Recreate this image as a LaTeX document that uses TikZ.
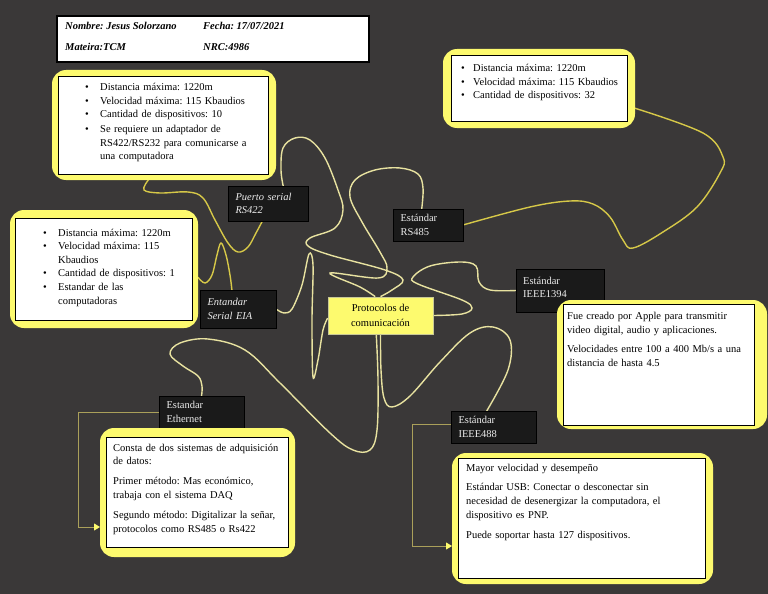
\documentclass[tikz,border=0pt]{standalone}
\usepackage{fontspec}
\setmainfont{Liberation Serif}
\usetikzlibrary{calc,arrows.meta}
\frenchspacing
\definecolor{bg}{RGB}{58,56,56}
\definecolor{boxyel}{RGB}{253,250,110}
\definecolor{lblk}{RGB}{26,26,26}
\definecolor{lbtxt}{RGB}{236,236,236}
\definecolor{gold}{RGB}{214,200,72}
\definecolor{cream}{RGB}{232,226,160}
\definecolor{elb}{RGB}{170,160,90}
\definecolor{protoedge}{RGB}{200,200,150}
\pgfdeclarelayer{back}
\pgfdeclarelayer{mid}
\pgfsetlayers{back,mid,main}
\newcommand\bl{\noindent\llap{\makebox[15pt][l]{\textbullet}}}
\newcommand\blb{\noindent\llap{\makebox[12pt][l]{\textbullet}}}
\begin{document}
\begin{tikzpicture}[x=1pt,y=-1pt,
  ybox/.style={fill=boxyel, rounded corners=14pt, inner sep=0pt, outer sep=0pt},
  wbox/.style={fill=white, draw=black, line width=1pt, inner sep=0pt, outer sep=0pt},
  lbl/.style={fill=lblk, draw=black, line width=0.6pt, text=lbtxt, font=\fontsize{10.5}{13.5}\selectfont\frenchspacing, align=left, inner xsep=7.5pt, inner ysep=0pt, outer sep=0pt},
  ilbl/.style={lbl, font=\fontsize{10.5}{13.5}\selectfont\itshape},
  lbltxt/.style={anchor=base west, inner sep=0pt, align=left, text width=80pt, text=lbtxt, font=\fontsize{10.5}{13.3}\selectfont},
  txt/.style={anchor=base west, inner sep=0pt, align=left, text width=260pt, font=\fontsize{10.5}{13.8}\selectfont\frenchspacing, text=black},
  hdrtxt/.style={anchor=base west, inner sep=0pt, font=\fontsize{10.5}{12}\selectfont\bfseries\itshape\frenchspacing, text=black},
  gcurve/.style={draw=gold, line width=1.4pt},
  ccurve/.style={draw=cream, line width=1.4pt},
  elbow/.style={draw=elb, line width=0.9pt, -{Triangle[length=6pt,width=7pt,color=boxyel]}},
]
\useasboundingbox (0,0) rectangle (768,594);
\begin{pgfonlayer}{back}
\fill[bg] (0,0) rectangle (768,594);
\end{pgfonlayer}

% header
\node[draw=black, fill=white, line width=1.2pt, minimum width=312pt, minimum height=46pt, inner sep=0pt] (hdr) at (213,39) {};
\node[hdrtxt] (h1) at (65,30) {Nombre: Jesus Solorzano};
\node[hdrtxt] (h2) at (203,30) {Fecha: 17/07/2021};
\node[hdrtxt] (h3) at (65,51) {Mateira:TCM};
\node[hdrtxt] (h4) at (203,51) {NRC:4986};

% top-left box
\node[ybox, minimum width=224pt, minimum height=110pt] (tlY) at (164,125) {};
\node[wbox, minimum width=210pt, minimum height=98pt] (tlW) at (163,125) {};
\node[txt, font=\fontsize{10.5}{14}\selectfont\frenchspacing] (tlT) at (85,90) {\leftskip=15pt
\bl Distancia máxima: 1220m\\
\bl Velocidad máxima: 115 Kbaudios\\
\bl Cantidad de dispositivos: 10\\
\bl Se requiere un adaptador de\\
RS422/RS232 para comunicarse a\\
una computadora\par};

% top-right box
\node[ybox, minimum width=192pt, minimum height=79pt] (trY) at (539,88.5) {};
\node[wbox, minimum width=176pt, minimum height=65pt] (trW) at (539,88.5) {};
\node[txt, font=\fontsize{10.5}{14}\selectfont\frenchspacing] (trT) at (461,71) {\leftskip=12pt
\blb Distancia máxima: 1220m\\
\blb Velocidad máxima: 115 Kbaudios\\
\blb Cantidad de dispositivos: 32\par};

% left middle box
\node[ybox, minimum width=188pt, minimum height=118pt] (lmY) at (104,269) {};
\node[wbox, minimum width=177pt, minimum height=102pt] (lmW) at (103.5,269) {};
\node[txt, font=\fontsize{10.5}{13.6}\selectfont\frenchspacing] (lmT) at (43,236) {\leftskip=15pt
\bl Distancia máxima: 1220m\\
\bl Velocidad máxima: 115\\
Kbaudios\\
\bl Cantidad de dispositivos: 1\\
\bl Estandar de las\\
computadoras\par};

% labels
\node[ilbl, text width=65pt, minimum height=35pt] (ps) at (268,203.5) {Puerto serial\\RS422};
\node[ilbl, text width=61pt, minimum height=38pt] (eia) at (238,309) {Entandar\\Serial EIA};
\node[lbl, text width=55pt, minimum height=32pt] (rs) at (428,225) {Estándar\\RS485};
\node[lbl, minimum width=88pt, minimum height=43pt] (ie4) at (560,290.5) {};
\node[lbltxt] (ie4t) at (523,284) {Estándar\\IEEE1394};
\node[lbl, text width=70pt, minimum height=32pt] (eth) at (201.5,412) {Estandar\\Ethernet};
\node[lbl, text width=70pt, minimum height=32pt] (ie8) at (493.5,427) {Estándar\\IEEE488};

% central node
\node[fill=boxyel, draw=protoedge, line width=0.8pt, minimum width=105pt, minimum height=37pt, inner sep=0pt, align=center, font=\fontsize{10.5}{14.5}\selectfont] (proto) at (380.5,315.5) {Protocolos de\\comunicación};

% IEEE1394 description
\node[ybox, minimum width=210pt, minimum height=129pt] (d4Y) at (662,364.5) {};
\node[wbox, minimum width=191pt, minimum height=121pt] (d4W) at (658.5,364.5) {};
\node[txt, font=\fontsize{10.5}{14}\selectfont\frenchspacing] (d4T) at (567,319) {Fue creado por Apple para transmitir\\
video digital, audio y aplicaciones.\\[5pt]
Velocidades entre 100 a 400 Mb/s a una\\
distancia de hasta 4.5};

% Ethernet description
\node[ybox, minimum width=195pt, minimum height=129pt] (deY) at (197.5,492.5) {};
\node[wbox, minimum width=182pt, minimum height=110pt] (deW) at (197,492) {};
\node[txt] (deT) at (113,451) {Consta de dos sistemas de adquisición\\
de datos:\\[6pt]
Primer método: Mas económico,\\
trabaja con el sistema DAQ\\[6pt]
Segundo método: Digitalizar la señar,\\
protocolos como RS485 o Rs422};

% IEEE488 description
\node[ybox, minimum width=261pt, minimum height=131pt] (d8Y) at (582.5,518.5) {};
\node[wbox, minimum width=247pt, minimum height=120pt] (d8W) at (581.5,518) {};
\node[txt] (d8T) at (466,471) {Mayor velocidad y desempeño\\[6pt]
Estándar USB: Conectar o desconectar sin\\
necesidad de desenergizar la computadora, el\\
dispositivo es PNP.\\[6pt]
Puede soportar hasta 127 dispositivos.};

% connector end points
\coordinate (a0) at ($(tlY.south west)!0.43!(tlY.south east)$);
\coordinate (a1) at ($(ps.south west)!0.43!(ps.south east)$);
\coordinate (b0) at ($(lmY.north east)!0.57!(lmY.south east)$);
\coordinate (b1) at ($(eia.north west)!0.42!(eia.north east)$);
\coordinate (c0) at (eia.east);
\coordinate (c1) at ($(proto.north west)!0.57!(proto.south west)$);
\coordinate (d0) at ($(ps.north west)!0.69!(ps.north east)$);
\coordinate (d1) at (proto.north);
\coordinate (e0) at ($(rs.north west)!0.41!(rs.north east)$);
\coordinate (e1) at ($(proto.north west)!0.45!(proto.north east)$);
\coordinate (g0) at ($(proto.north east)!0.5!(proto.south east)$);
\coordinate (g1) at (ie4.west);
\coordinate (h0) at (rs.east);
\coordinate (h1) at ($(trY.north east)!0.75!(trY.south east)$);
\coordinate (i0) at (proto.south);
\coordinate (i1) at ($(ie8.north west)!0.42!(ie8.north east)$);
\coordinate (j0) at ($(proto.south west)!0.46!(proto.south east)$);
\coordinate (j1) at (eth.north);
\coordinate (ethC) at (78,412);
\coordinate (ethIn) at (100,527);
\coordinate (ie8C) at (412,424);
\coordinate (ie8In) at (452,546);

\begin{pgfonlayer}{mid}
\draw[gcurve] plot[smooth, tension=0.6] coordinates {(a0) (144,190) (160,193) (188,192) (203,198) (215,220) (228,243) (238,252) (248,247) (256,233) (a1)};
\draw[gcurve] plot[smooth, tension=0.6] coordinates {(b0) (205,283) (212,275) (217,255) (221,243) (226,255) (230,275) (b1)};
\draw[ccurve] plot[smooth, tension=0.55] coordinates {(c0) (284,313) (292,309) (302,285) (309,254) (313,265) (312,320) (313,377) (318,360) (323,330) (c1)};
\draw[ccurve] plot[smooth, tension=0.6] coordinates {(d0) (281,170) (283,148) (295,138) (310,140) (325,158) (338,190) (343,210) (335,228) (310,238) (308,246) (330,255) (385,270) (403,280) (392,290) (d1)};
\draw[ccurve] plot[smooth, tension=0.6] coordinates {(e0) (423,188) (418,174) (400,168) (375,170) (355,180) (350,197) (362,222) (380,252) (387,268) (378,278) (330,273) (360,287) (e1)};
\draw[ccurve] plot[smooth, tension=0.6] coordinates {(g0) (462,314) (472,308) (462,300) (418,284) (413,277) (430,266) (460,262) (476,266) (479,282) (490,290) (g1)};
\draw[gcurve] plot[smooth, tension=0.6] coordinates {(h0) (530,207) (570,201) (593,204) (610,217) (623,240) (633,248) (663,232) (697,207) (720,173) (723,157) (703,133) (h1)};
\draw[ccurve] plot[smooth, tension=0.6] coordinates {(i0) (381,370) (384,398) (392,407) (410,396) (440,362) (470,333) (493,327) (510,340) (508,370) (i1)};
\draw[ccurve] plot[smooth, tension=0.6] coordinates {(j0) (378,380) (377,430) (370,450) (353,450) (330,433) (280,383) (245,350) (208,339) (180,343) (170,354) (183,366) (198,376) (202,386) (j1)};
\draw[elbow] (eth.west) -- (ethC) |- (ethIn);
\draw[elbow] (ie8.west |- ie8C) -- (ie8C) |- (ie8In);
\end{pgfonlayer}
\end{tikzpicture}
\end{document}
